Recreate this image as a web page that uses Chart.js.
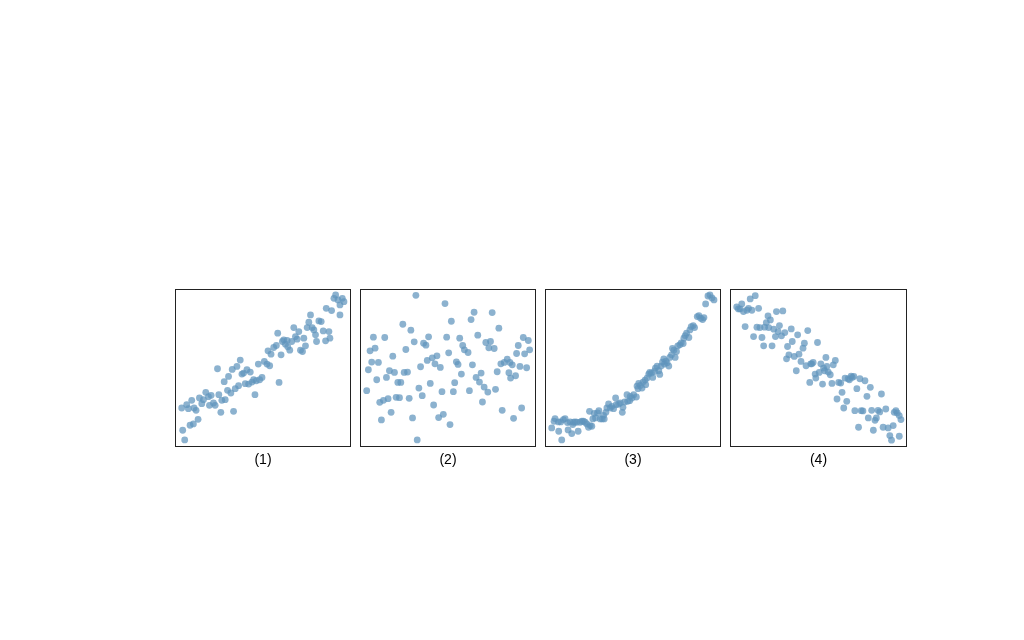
<!DOCTYPE html>
<html>
<head>
<meta charset="utf-8">
<script src="https://cdn.jsdelivr.net/npm/chart.js@4"></script>
<style>
  body { margin: 0; background: #fff; }
  .panel { position: absolute; top: 284px; width: 186px; height: 189px; }
</style>
</head>
<body>
<div class="panel" style="left:170px"><canvas id="c1"></canvas></div>
<div class="panel" style="left:355px"><canvas id="c2"></canvas></div>
<div class="panel" style="left:540px"><canvas id="c3"></canvas></div>
<div class="panel" style="left:725px; width:187px"><canvas id="c4"></canvas></div>
<script>
const labels = ['(1)', '(2)', '(3)', '(4)'];

// panel 1: strong positive linear
const x1 = [23,29,20,35,40,50,57,63,45,55,69,73,80,85,92,100,103,108,115,120,131,137,140,150,127,147,160,157,167,175,171,180,185,190,195,200,205,210,215,220,225,230,239,235,243,249,253,260,267,275,283,278,287,295,303,307,311,317,321,325,330,335,337,343,349,355,360,365,370,375,381,385,390,395,400,405,410,415,420,423,430,437,443,450,460,463,452,468,475,480,487,493,493,500,505];
const y1 = [48,19,115,125,113,138,115,108,63,67,81,145,128,140,162,149,123,153,130,123,155,102,138,140,233,194,210,168,160,105,231,173,240,182,259,217,220,188,230,187,223,193,155,200,197,247,200,207,255,247,242,287,277,297,303,340,192,275,315,320,307,318,299,289,315,357,330,322,345,289,285,325,302,357,373,395,357,350,335,315,377,375,347,317,345,325,415,408,445,455,440,425,395,445,435];

// panel 2: no association
const x2 = [167,254,341,395,273,332,128,415,152,40,74,205,259,298,352,488,503,162,190,197,376,390,307,385,401,473,45,30,137,312,323,265,507,468,492,98,230,216,201,288,293,224,240,336,35,55,421,431,440,448,455,478,498,25,88,103,132,142,181,303,362,410,445,450,465,79,50,347,357,113,122,210,283,20,176,371,382,405,327,279,245,186,108,118,147,84,70,59,366,220,425,483,93,249,235,157,64,459,269,171];
const y2 = [454,429,403,402,376,381,367,355,349,328,327,329,328,325,334,327,318,314,310,304,312,315,303,296,294,303,295,287,291,290,282,281,290,279,278,271,272,266,258,254,246,248,237,245,253,252,248,252,262,252,245,240,236,230,227,222,222,223,239,217,220,224,221,205,212,207,200,207,193,192,192,189,191,167,175,178,163,171,167,164,164,152,147,146,144,143,138,132,133,124,108,115,102,96,86,85,79,84,65,19];

// panel 3: positive curved
const x3 = [20,27,30,40,41,50,47,55,60,69,67,75,80,83,85,90,95,99,105,110,115,120,125,130,135,140,133,143,147,151,157,161,165,171,175,177,182,185,190,195,200,205,211,213,220,225,231,233,238,245,247,253,255,260,265,273,275,278,280,285,290,293,299,301,305,310,313,318,322,327,330,335,340,343,347,351,355,357,361,365,370,373,378,381,385,389,393,397,403,407,413,415,419,423,430,433,437,443,447,455,460,465,471,475,480,487,493,499,505];
const y3 = [55,75,83,73,45,19,73,80,83,49,71,73,38,65,72,73,72,45,72,75,75,72,67,57,62,60,105,82,99,85,100,107,82,82,93,82,102,115,127,115,120,113,145,125,127,130,102,117,133,155,135,137,150,145,155,148,181,173,189,183,175,193,199,185,205,217,222,220,207,225,235,241,227,216,241,253,263,247,256,251,241,267,275,294,289,267,285,302,305,311,309,325,333,340,327,350,360,363,357,390,393,385,381,387,428,452,455,446,440];

// panel 4: negative linear
const x4 = [20,25,30,35,40,45,50,55,60,65,75,85,70,80,89,95,100,103,108,113,115,120,125,130,135,138,143,147,153,157,163,168,171,175,182,185,191,197,201,205,211,217,221,226,231,237,240,243,247,253,255,260,265,270,275,278,281,285,288,292,298,303,307,313,318,323,329,333,338,342,347,351,355,360,363,368,377,371,382,386,390,395,401,407,411,417,421,426,431,435,440,445,450,455,463,470,475,480,485,488,493,497,503,503,508];
const y4 = [419,413,413,428,405,360,409,415,443,409,453,415,330,358,357,327,302,358,372,392,357,380,302,352,330,405,345,363,332,407,342,263,300,275,353,315,270,227,335,277,255,295,310,242,348,192,248,248,252,217,205,312,222,248,187,235,227,267,240,223,215,189,245,258,142,192,190,162,115,205,135,203,200,211,207,210,173,107,57,203,107,106,197,150,85,177,108,48,78,85,108,103,157,57,112,55,32,18,62,102,107,100,92,30,80];

const xs = [x1, x2, x3, x4];
const ys = [y1, y2, y3, y4];

// draw the frame round each plot area
const frame = {
  id: 'frame',
  afterDatasetsDraw(chart) {
    const a = chart.chartArea;
    const ctx = chart.ctx;
    ctx.save();
    ctx.strokeStyle = '#222';
    ctx.lineWidth = 1;
    ctx.strokeRect(Math.round(a.left) + 0.5, Math.round(a.top) + 0.5,
      Math.round(a.right - a.left) - 1, Math.round(a.bottom - a.top));
    ctx.restore();
  }
};

for (let i = 0; i < 4; i++) {
  const pts = xs[i].map((x, j) => ({ x: x, y: ys[i][j] }));
  new Chart(document.getElementById('c' + (i + 1)), {
    type: 'scatter',
    data: {
      datasets: [{
        data: pts,
        backgroundColor: 'rgba(96,148,188,0.72)',
        borderWidth: 0,
        pointRadius: 3.4,
        pointHoverRadius: 3.4
      }]
    },
    options: {
      responsive: true,
      maintainAspectRatio: false,
      animation: false,
      layout: { padding: { left: 5, right: 5, top: 5, bottom: 0 } },
      scales: {
        x: { display: false, min: 0, max: 526 },
        y: { display: false, min: 0, max: 473 }
      },
      plugins: {
        legend: { display: false },
        tooltip: { enabled: false },
        title: {
          display: true,
          position: 'bottom',
          text: labels[i],
          color: '#000',
          font: { family: 'Liberation Sans, Arial, sans-serif', size: 14, weight: 'normal' },
          padding: { top: 6, bottom: 4 }
        }
      }
    },
    plugins: [frame]
  });
}
</script>
</body>
</html>
